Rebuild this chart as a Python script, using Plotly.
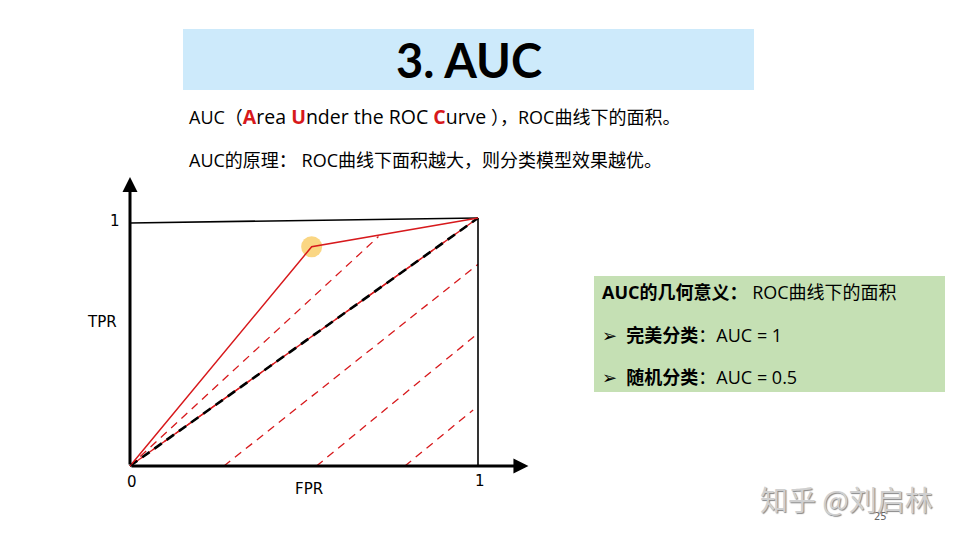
import plotly.graph_objects as go

# ROC curve of the classifier (FPR, TPR)
roc_fpr = [0, 0.522, 1]
roc_tpr = [0, 0.884, 1]

# random classifier diagonal
diag_fpr = [0, 1]
diag_tpr = [0, 1]

# iso-performance lines (start x, start y, end x, end y)
iso_x0 = [0, 0, 0.270, 0.536, 0.790]
iso_y0 = [0, 0, 0, 0, 0]
iso_x1 = [0.714, 1, 1, 1, 0.986]
iso_y1 = [0.925, 1, 0.813, 0.535, 0.226]

# frame of the unit square
top_x = [0, 1]
top_y = [0.98, 1]
right_x = [1, 1]
right_y = [0, 1]

# highlighted operating point
best_point = [0.522, 0.884]

tick_labels = ["0", "1"]
axis_titles = ["FPR", "TPR"]

W, H = 960, 540
OFF = 8  # page body margin
# pixel position (in the page) of data origin and of (1, 1)
x0_px, x1_px = 130 - OFF, 478 - OFF
y0_px, y1_px = 466 - OFF, 218 - OFF
sx = x1_px - x0_px
sy = y0_px - y1_px

RED = "#d7191c"
FONT = "Lato, Noto Sans CJK SC, sans-serif"
BODY = "Open Sans, Noto Sans CJK SC, sans-serif"
AXFONT = "DejaVu Sans, sans-serif"


def px(x):
    return (x - OFF) / W


def py(y):
    return 1 - (y - OFF) / H


fig = go.Figure()

# highlight dot under the curve
fig.add_trace(go.Scatter(
    x=[best_point[0]], y=[best_point[1]],
    mode="markers",
    marker=dict(size=21, color="rgba(248,200,90,0.75)"),
    hoverinfo="skip", showlegend=False
))

# red under the diagonal, so it shows in the gaps of the black dashes
fig.add_trace(go.Scatter(
    x=diag_fpr, y=diag_tpr,
    mode="lines",
    line=dict(color=RED, width=1.4),
    hoverinfo="skip", showlegend=False
))

for xa, ya, xb, yb in zip(iso_x0, iso_y0, iso_x1, iso_y1):
    fig.add_trace(go.Scatter(
        x=[xa, xb], y=[ya, yb],
        mode="lines",
        line=dict(color=RED, width=1.3, dash="8px,6px"),
        hoverinfo="skip", showlegend=False
    ))

fig.add_trace(go.Scatter(
    x=diag_fpr, y=diag_tpr,
    mode="lines",
    line=dict(color="black", width=2.6, dash="9px,6px"),
    hoverinfo="skip", showlegend=False
))

fig.add_trace(go.Scatter(
    x=top_x, y=top_y,
    mode="lines",
    line=dict(color="black", width=1.6),
    hoverinfo="skip", showlegend=False
))
fig.add_trace(go.Scatter(
    x=right_x, y=right_y,
    mode="lines",
    line=dict(color="black", width=1.6),
    hoverinfo="skip", showlegend=False
))

fig.add_trace(go.Scatter(
    x=roc_fpr, y=roc_tpr,
    mode="lines",
    line=dict(color=RED, width=1.5),
    hoverinfo="skip", showlegend=False
))

# axes with arrows
fig.add_annotation(
    x=1.145, y=0, ax=0, ay=0, xref="x", yref="y", axref="x", ayref="y",
    showarrow=True, arrowhead=2, arrowsize=1, arrowwidth=3, arrowcolor="black", text=""
)
fig.add_annotation(
    x=0, y=1.165, ax=0, ay=0, xref="x", yref="y", axref="x", ayref="y",
    showarrow=True, arrowhead=2, arrowsize=1, arrowwidth=3, arrowcolor="black", text=""
)

# tick labels and axis titles
lab = dict(xref="x", yref="y", showarrow=False, xanchor="center", yanchor="middle",
           font=dict(family=AXFONT, size=15, color="black"))
fig.add_annotation(x=0, y=0, text=tick_labels[0], xshift=2, yshift=-16, **lab)
fig.add_annotation(x=1, y=0, text=tick_labels[1], xshift=2, yshift=-15, **lab)
fig.add_annotation(x=0, y=1, text=tick_labels[1], xshift=-15.5, yshift=-2.5, **lab)
fig.add_annotation(x=0.513, y=0, text=axis_titles[0], yshift=-23, **lab)
fig.add_annotation(x=0, y=0.58, text=axis_titles[1], xshift=-28, **lab)

# title banner
fig.add_shape(type="rect", xref="paper", yref="paper",
              x0=px(183), x1=px(754), y0=py(90), y1=py(29),
              fillcolor="#cdeafb", line=dict(width=0), layer="below")
fig.add_annotation(x=px(469), y=py(60), xref="paper", yref="paper", showarrow=False,
                   xanchor="center", yanchor="middle",
                   text="<b>3. AUC</b>", font=dict(family=FONT, size=47, color="black"))

# description lines
red_b = lambda s: f"<b><span style='color:{RED}'>{s}</span></b>"
eng = ("<span style='font-size:19.5px'>" + red_b("A") + "rea " + red_b("U")
       + "nder the ROC " + red_b("C") + "urve</span>")
line1 = "AUC（" + eng + " ），ROC曲线下的面积。"
line2 = "AUC的原理： ROC曲线下面积越大，则分类模型效果越优。"
txt = dict(xref="paper", yref="paper", showarrow=False, xanchor="left", yanchor="middle",
           font=dict(family=BODY, size=18, color="black"))
fig.add_annotation(x=px(187), y=py(117), text=line1, **txt)
fig.add_annotation(x=px(187), y=py(160), text=line2, **txt)

# green note box
fig.add_shape(type="rect", xref="paper", yref="paper",
              x0=px(594), x1=px(945), y0=py(392), y1=py(276),
              fillcolor="#c5e0b4", line=dict(width=0), layer="below")
notes = [
    "<b>AUC的几何意义：</b> ROC曲线下的面积",
    "➢  <b>完美分类</b>：AUC = 1",
    "➢  <b>随机分类</b>：AUC = 0.5",
]
for i, t in enumerate(notes):
    fig.add_annotation(x=px(600), y=py(292 + 42.5 * i), text=t, **txt)

# watermark and page number
fig.add_annotation(x=px(846), y=py(499), xref="paper", yref="paper", showarrow=False,
                   xanchor="center", yanchor="middle",
                   text="知乎 @刘启林",
                   font=dict(family="Noto Sans CJK SC", size=28, color="#d0d0d0",
                             shadow="1px 1px 1px #888"))
fig.add_annotation(x=px(880), y=py(516), xref="paper", yref="paper", showarrow=False,
                   xanchor="center", yanchor="middle",
                   text="25", font=dict(family=AXFONT, size=10, color="#666"))

fig.update_xaxes(range=[-x0_px / sx, (W - x0_px) / sx], visible=False, domain=[0, 1])
fig.update_yaxes(range=[-(H - y0_px) / sy, y0_px / sy], visible=False, domain=[0, 1])

fig.update_layout(
    width=W,
    height=H,
    margin=dict(l=0, r=0, t=0, b=0),
    plot_bgcolor="white",
    paper_bgcolor="white",
)

fig.write_html("out.html")
